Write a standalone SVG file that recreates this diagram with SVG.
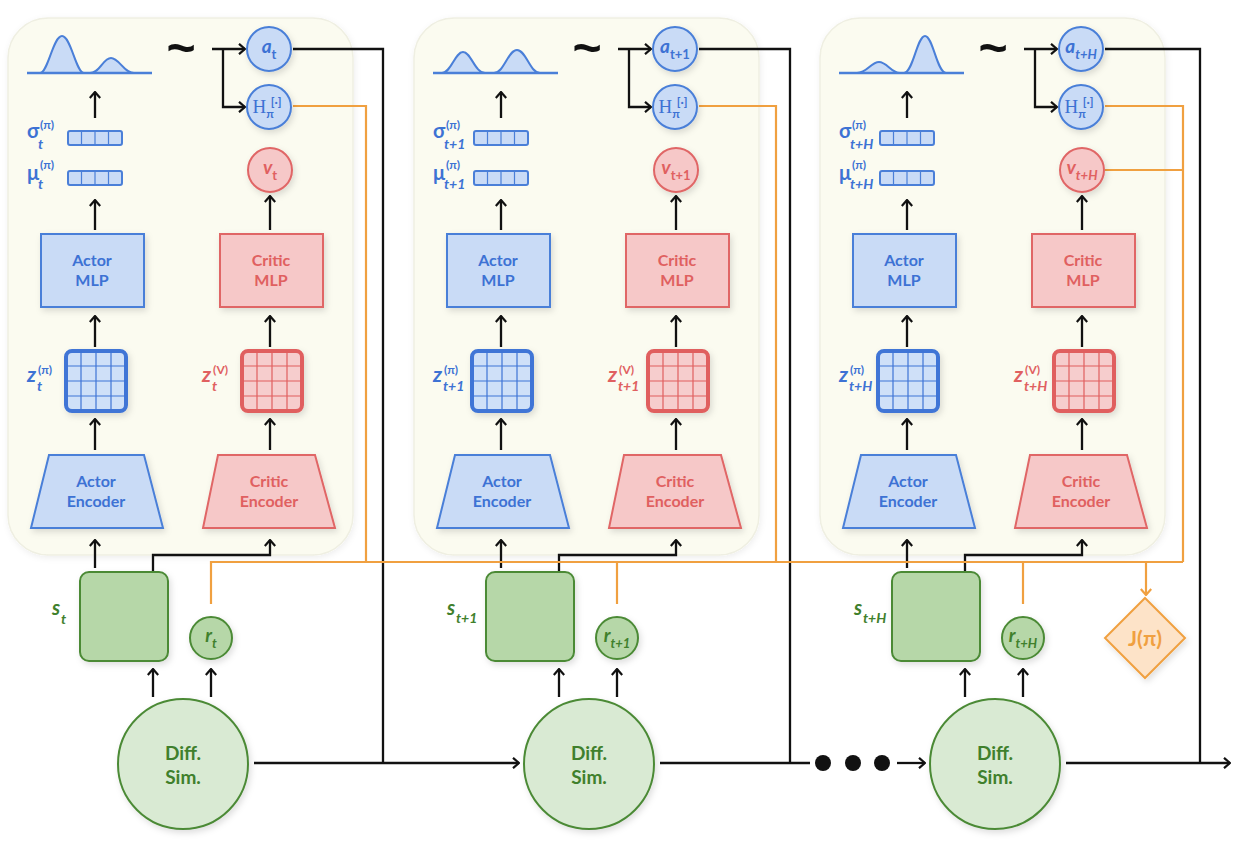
<svg xmlns="http://www.w3.org/2000/svg" width="1246" height="853" viewBox="0 0 1246 853">
<defs>
<filter id="sh" x="-30%" y="-30%" width="160%" height="160%"><feDropShadow dx="2" dy="3" stdDeviation="3" flood-color="#000" flood-opacity="0.13"/></filter>
<filter id="psh" x="-10%" y="-10%" width="120%" height="120%"><feDropShadow dx="1" dy="2" stdDeviation="3" flood-color="#000" flood-opacity="0.07"/></filter>
<marker id="ak" viewBox="0 0 12 12" refX="11" refY="6" markerWidth="12" markerHeight="12" markerUnits="userSpaceOnUse" orient="auto"><path d="M5,0.8 L11,6 L5,11.2" fill="none" stroke="#111" stroke-width="2.2"/></marker>
<marker id="ao" viewBox="0 0 12 12" refX="11" refY="6" markerWidth="12" markerHeight="12" markerUnits="userSpaceOnUse" orient="auto"><path d="M5,0.8 L11,6 L5,11.2" fill="none" stroke="#f0a040" stroke-width="2.2"/></marker>
</defs>
<style>
.panel{fill:#fbfbf0;stroke:#efefe2;stroke-width:1.5}
.bf{fill:#c9dbf6;stroke:#4a7fd8;stroke-width:2}
.rf{fill:#f6c8c8;stroke:#e06666;stroke-width:2}
.gf{fill:#b6d7a8;stroke:#4b8a36;stroke-width:2}
.gs{fill:#d9ead3;stroke:#4b8a36;stroke-width:2}
.gridb{fill:#cfe0f8;stroke:#3f74d6;stroke-width:4}
.gridr{fill:#f6cdcd;stroke:#e05f5f;stroke-width:4}
.gl{stroke-width:1.2;fill:none}
.t{font-family:Lato,"Open Sans",sans-serif;font-weight:bold}
.bt{fill:#3d72d4}
.rt{fill:#e06060}
.gt{fill:#40802c}
.ot{fill:#f0a040}
.it{font-style:italic}
.tl{font-family:"Liberation Sans",sans-serif;font-weight:bold;font-size:50px;fill:#111}
.blk{stroke:#111;stroke-width:2.3;fill:none}
.org{stroke:#f0a040;stroke-width:2.2;fill:none}
</style>

<!-- panels -->
<g id="panels">
<rect class="panel" filter="url(#psh)" x="8" y="18" width="345" height="537" rx="40"/>
<rect class="panel" filter="url(#psh)" x="414" y="18" width="345" height="537" rx="40"/>
<rect class="panel" filter="url(#psh)" x="820" y="18" width="345" height="537" rx="40"/>
</g>

<!-- connectors -->
<g id="connectors">
<g class="blk" marker-end="url(#ak)">
<path d="M95,118 V92"/><path d="M95,230 V200"/><path d="M270,230 V196"/>
<path d="M95,347 V316"/><path d="M270,347 V316"/>
<path d="M95,450 V419"/><path d="M270,450 V419"/>
<path d="M95,568 V540"/><path d="M153,572 V555 H270 V540"/>
<path d="M153,697 V669"/><path d="M211,697 V669"/>
<path d="M212,49 H245"/><path d="M223,49 V107 H245"/>

<path d="M501,118 V92"/><path d="M501,230 V200"/><path d="M676,230 V196"/>
<path d="M501,347 V316"/><path d="M676,347 V316"/>
<path d="M501,450 V419"/><path d="M676,450 V419"/>
<path d="M501,568 V540"/><path d="M559,572 V555 H676 V540"/>
<path d="M559,697 V669"/><path d="M617,697 V669"/>
<path d="M618,49 H651"/><path d="M629,49 V107 H651"/>

<path d="M907,118 V92"/><path d="M907,230 V200"/><path d="M1082,230 V196"/>
<path d="M907,347 V316"/><path d="M1082,347 V316"/>
<path d="M907,450 V419"/><path d="M1082,450 V419"/>
<path d="M907,568 V540"/><path d="M965,572 V555 H1082 V540"/>
<path d="M965,697 V669"/><path d="M1023,697 V669"/>
<path d="M1024,49 H1057"/><path d="M1035,49 V107 H1057"/>

<path d="M254,763 H519"/>
<path d="M897,763 H925"/>
<path d="M1066,763 H1230"/>
</g>
<g class="blk">
<path d="M293,49 H383 V763"/>
<path d="M699,49 H790 V763"/>
<path d="M1105,49 H1200 V763"/>
<path d="M660,763 H810"/>
</g>
<g fill="#111">
<circle cx="823" cy="763" r="8"/><circle cx="853" cy="763" r="8"/><circle cx="882" cy="763" r="8"/>
</g>
<g class="org">
<path d="M211,604 V562 H1183"/>
<path d="M617,604 V562"/>
<path d="M1023,604 V562"/>
<path d="M293,106 H366 V562"/>
<path d="M699,106 H776 V562"/>
<path d="M1105,106 H1183 V562"/>
<path d="M1105,170 H1183"/>
<path d="M1146,562 V595" marker-end="url(#ao)"/>
</g>
</g>

<!-- ===== Panel 1 ===== -->
<g id="p1">
<g id="dist1">
<path class="bf" d="M40,73 C48,73 53,36 62,36 C71,36 76,73 84,73 Z"/>
<path class="bf" d="M90,73 C100,73 103,58 111,58 C119,58 124,73 134,73 Z"/>
<path d="M27,73 H152" stroke="#4a7fd8" stroke-width="2.5"/>
</g>
<text class="tl" x="181" y="65" text-anchor="middle">~</text>
<g id="a1"><circle class="bf" filter="url(#sh)" cx="269" cy="49" r="22"/><text class="t bt" x="269" y="53" font-size="19" text-anchor="middle"><tspan class="it">a</tspan><tspan dy="6" font-size="13">t</tspan></text></g>
<g id="H1"><circle class="bf" filter="url(#sh)" cx="269" cy="107" r="22"/><text class="bt" x="267" y="113" font-size="19" text-anchor="middle" font-family="Liberation Serif,serif">H<tspan dy="5" font-size="12" font-family="Lato,sans-serif" font-weight="bold">π</tspan><tspan dx="-3" dy="-12" font-size="12" font-family="Lato,sans-serif" font-weight="bold">[·]</tspan></text></g>
<g id="v1"><circle class="rf" filter="url(#sh)" cx="270" cy="170" r="22"/><text class="t rt" x="270" y="174" font-size="19" text-anchor="middle"><tspan class="it">v</tspan><tspan dy="6" font-size="13">t</tspan></text></g>
<g id="sig1"><rect class="bf" x="68" y="131" width="54" height="14" rx="2"/><path class="gl" stroke="#4a7fd8" d="M81.5,131 V145 M95,131 V145 M108.5,131 V145"/>
<text class="t bt" x="27" y="138" font-size="20">σ</text><text class="t bt" x="40" y="129" font-size="12">(π)</text><text class="t bt it" x="38" y="149" font-size="14">t</text></g>
<g id="mu1"><rect class="bf" x="68" y="171" width="54" height="14" rx="2"/><path class="gl" stroke="#4a7fd8" d="M81.5,171 V185 M95,171 V185 M108.5,171 V185"/>
<text class="t bt" x="27" y="180" font-size="20">μ</text><text class="t bt" x="40" y="169" font-size="12">(π)</text><text class="t bt it" x="38" y="189" font-size="14">t</text></g>
<g id="amlp1"><rect class="bf" filter="url(#sh)" x="41" y="234" width="103" height="73"/><text class="t bt" x="92" y="266" font-size="16" text-anchor="middle">Actor</text><text class="t bt" x="92" y="286" font-size="16" text-anchor="middle">MLP</text></g>
<g id="cmlp1"><rect class="rf" filter="url(#sh)" x="220" y="234" width="103" height="73"/><text class="t rt" x="271" y="266" font-size="16" text-anchor="middle">Critic</text><text class="t rt" x="271" y="286" font-size="16" text-anchor="middle">MLP</text></g>
<g id="za1"><rect class="gridb" filter="url(#sh)" x="66" y="351" width="60" height="60" rx="6"/><path class="gl" stroke="#3f74d6" d="M81,351 V411 M96,351 V411 M111,351 V411 M66,366 H126 M66,381 H126 M66,396 H126"/>
<text class="t bt it" x="27" y="382" font-size="21">z</text><text class="t bt" x="38" y="374" font-size="12">(π)</text><text class="t bt it" x="37" y="391" font-size="14">t</text></g>
<g id="zc1"><rect class="gridr" filter="url(#sh)" x="242" y="351" width="60" height="60" rx="6"/><path class="gl" stroke="#e05f5f" d="M257,351 V411 M272,351 V411 M287,351 V411 M242,366 H302 M242,381 H302 M242,396 H302"/>
<text class="t rt it" x="202" y="382" font-size="21">z</text><text class="t rt" x="213" y="374" font-size="12">(V)</text><text class="t rt it" x="212" y="391" font-size="14">t</text></g>
<g id="aenc1"><path class="bf" filter="url(#sh)" d="M49,455 H144 L163,528 H31 Z"/><text class="t bt" x="96" y="487" font-size="16" text-anchor="middle">Actor</text><text class="t bt" x="96" y="507" font-size="16" text-anchor="middle">Encoder</text></g>
<g id="cenc1"><path class="rf" filter="url(#sh)" d="M218,455 H315 L335,528 H203 Z"/><text class="t rt" x="269" y="487" font-size="16" text-anchor="middle">Critic</text><text class="t rt" x="269" y="507" font-size="16" text-anchor="middle">Encoder</text></g>
<g id="s1"><rect class="gf" filter="url(#sh)" x="80" y="572" width="88" height="89" rx="9"/><text class="t gt it" x="52" y="615" font-size="20">s</text><text class="t gt it" x="61" y="624" font-size="14">t</text></g>
<g id="r1"><circle class="gf" filter="url(#sh)" cx="211" cy="638" r="21"/><text class="t gt" x="211" y="642" font-size="19" text-anchor="middle"><tspan class="it">r</tspan><tspan class="it" dy="6" font-size="13">t</tspan></text></g>
<g id="sim1"><circle class="gs" filter="url(#sh)" cx="183" cy="764" r="65"/><text class="t gt" x="183" y="760" font-size="19" text-anchor="middle">Diff.</text><text class="t gt" x="183" y="784" font-size="19" text-anchor="middle">Sim.</text></g>
</g>

<!-- ===== Panel 2 ===== -->
<g id="p2" transform="translate(406,0)">
<g id="dist2">
<path class="bf" d="M36,73 C45,73 49,52 57,52 C65,52 69,73 79,73 Z"/>
<path class="bf" d="M88,73 C98,73 102,50 111,50 C120,50 124,73 134,73 Z"/>
<path d="M27,73 H152" stroke="#4a7fd8" stroke-width="2.5"/>
</g>
<text class="tl" x="181" y="65" text-anchor="middle">~</text>
<g id="a2"><circle class="bf" filter="url(#sh)" cx="269" cy="49" r="22"/><text class="t bt" x="269" y="53" font-size="19" text-anchor="middle"><tspan class="it">a</tspan><tspan dy="6" font-size="13">t+1</tspan></text></g>
<g id="H2"><circle class="bf" filter="url(#sh)" cx="269" cy="107" r="22"/><text class="bt" x="267" y="113" font-size="19" text-anchor="middle" font-family="Liberation Serif,serif">H<tspan dy="5" font-size="12" font-family="Lato,sans-serif" font-weight="bold">π</tspan><tspan dx="-3" dy="-12" font-size="12" font-family="Lato,sans-serif" font-weight="bold">[·]</tspan></text></g>
<g id="v2"><circle class="rf" filter="url(#sh)" cx="270" cy="170" r="22"/><text class="t rt" x="270" y="174" font-size="19" text-anchor="middle"><tspan class="it">v</tspan><tspan dy="6" font-size="13">t+1</tspan></text></g>
<g id="sig2"><rect class="bf" x="68" y="131" width="54" height="14" rx="2"/><path class="gl" stroke="#4a7fd8" d="M81.5,131 V145 M95,131 V145 M108.5,131 V145"/>
<text class="t bt" x="27" y="138" font-size="20">σ</text><text class="t bt" x="40" y="129" font-size="12">(π)</text><text class="t bt it" x="38" y="149" font-size="14">t+1</text></g>
<g id="mu2"><rect class="bf" x="68" y="171" width="54" height="14" rx="2"/><path class="gl" stroke="#4a7fd8" d="M81.5,171 V185 M95,171 V185 M108.5,171 V185"/>
<text class="t bt" x="27" y="180" font-size="20">μ</text><text class="t bt" x="40" y="169" font-size="12">(π)</text><text class="t bt it" x="38" y="189" font-size="14">t+1</text></g>
<g id="amlp2"><rect class="bf" filter="url(#sh)" x="41" y="234" width="103" height="73"/><text class="t bt" x="92" y="266" font-size="16" text-anchor="middle">Actor</text><text class="t bt" x="92" y="286" font-size="16" text-anchor="middle">MLP</text></g>
<g id="cmlp2"><rect class="rf" filter="url(#sh)" x="220" y="234" width="103" height="73"/><text class="t rt" x="271" y="266" font-size="16" text-anchor="middle">Critic</text><text class="t rt" x="271" y="286" font-size="16" text-anchor="middle">MLP</text></g>
<g id="za2"><rect class="gridb" filter="url(#sh)" x="66" y="351" width="60" height="60" rx="6"/><path class="gl" stroke="#3f74d6" d="M81,351 V411 M96,351 V411 M111,351 V411 M66,366 H126 M66,381 H126 M66,396 H126"/>
<text class="t bt it" x="27" y="382" font-size="21">z</text><text class="t bt" x="38" y="374" font-size="12">(π)</text><text class="t bt it" x="37" y="391" font-size="14">t+1</text></g>
<g id="zc2"><rect class="gridr" filter="url(#sh)" x="242" y="351" width="60" height="60" rx="6"/><path class="gl" stroke="#e05f5f" d="M257,351 V411 M272,351 V411 M287,351 V411 M242,366 H302 M242,381 H302 M242,396 H302"/>
<text class="t rt it" x="202" y="382" font-size="21">z</text><text class="t rt" x="213" y="374" font-size="12">(V)</text><text class="t rt it" x="212" y="391" font-size="14">t+1</text></g>
<g id="aenc2"><path class="bf" filter="url(#sh)" d="M49,455 H144 L163,528 H31 Z"/><text class="t bt" x="96" y="487" font-size="16" text-anchor="middle">Actor</text><text class="t bt" x="96" y="507" font-size="16" text-anchor="middle">Encoder</text></g>
<g id="cenc2"><path class="rf" filter="url(#sh)" d="M218,455 H315 L335,528 H203 Z"/><text class="t rt" x="269" y="487" font-size="16" text-anchor="middle">Critic</text><text class="t rt" x="269" y="507" font-size="16" text-anchor="middle">Encoder</text></g>
<g id="s2"><rect class="gf" filter="url(#sh)" x="80" y="572" width="88" height="89" rx="9"/><text class="t gt it" x="41" y="615" font-size="20">s</text><text class="t gt it" x="50" y="623" font-size="14">t+1</text></g>
<g id="r2"><circle class="gf" filter="url(#sh)" cx="211" cy="638" r="21"/><text class="t gt" x="211" y="642" font-size="19" text-anchor="middle"><tspan class="it">r</tspan><tspan class="it" dy="6" font-size="13">t+1</tspan></text></g>
<g id="sim2"><circle class="gs" filter="url(#sh)" cx="183" cy="764" r="65"/><text class="t gt" x="183" y="760" font-size="19" text-anchor="middle">Diff.</text><text class="t gt" x="183" y="784" font-size="19" text-anchor="middle">Sim.</text></g>
</g>

<!-- ===== Panel 3 ===== -->
<g id="p3" transform="translate(812,0)">
<g id="dist3">
<path class="bf" d="M45,73 C55,73 59,62 67,62 C75,62 79,73 88,73 Z"/>
<path class="bf" d="M92,73 C101,73 105,36 113,36 C121,36 125,73 134,73 Z"/>
<path d="M27,73 H152" stroke="#4a7fd8" stroke-width="2.5"/>
</g>
<text class="tl" x="181" y="65" text-anchor="middle">~</text>
<g id="a3"><circle class="bf" filter="url(#sh)" cx="269" cy="49" r="22"/><text class="t bt" x="269" y="53" font-size="19" text-anchor="middle"><tspan class="it">a</tspan><tspan class="it" dy="6" font-size="13">t+H</tspan></text></g>
<g id="H3"><circle class="bf" filter="url(#sh)" cx="269" cy="107" r="22"/><text class="bt" x="267" y="113" font-size="19" text-anchor="middle" font-family="Liberation Serif,serif">H<tspan dy="5" font-size="12" font-family="Lato,sans-serif" font-weight="bold">π</tspan><tspan dx="-3" dy="-12" font-size="12" font-family="Lato,sans-serif" font-weight="bold">[·]</tspan></text></g>
<g id="v3"><circle class="rf" filter="url(#sh)" cx="270" cy="170" r="22"/><text class="t rt" x="270" y="174" font-size="19" text-anchor="middle"><tspan class="it">v</tspan><tspan class="it" dy="6" font-size="13">t+H</tspan></text></g>
<g id="sig3"><rect class="bf" x="68" y="131" width="54" height="14" rx="2"/><path class="gl" stroke="#4a7fd8" d="M81.5,131 V145 M95,131 V145 M108.5,131 V145"/>
<text class="t bt" x="27" y="138" font-size="20">σ</text><text class="t bt" x="40" y="129" font-size="12">(π)</text><text class="t bt it" x="38" y="149" font-size="14">t+H</text></g>
<g id="mu3"><rect class="bf" x="68" y="171" width="54" height="14" rx="2"/><path class="gl" stroke="#4a7fd8" d="M81.5,171 V185 M95,171 V185 M108.5,171 V185"/>
<text class="t bt" x="27" y="180" font-size="20">μ</text><text class="t bt" x="40" y="169" font-size="12">(π)</text><text class="t bt it" x="38" y="189" font-size="14">t+H</text></g>
<g id="amlp3"><rect class="bf" filter="url(#sh)" x="41" y="234" width="103" height="73"/><text class="t bt" x="92" y="266" font-size="16" text-anchor="middle">Actor</text><text class="t bt" x="92" y="286" font-size="16" text-anchor="middle">MLP</text></g>
<g id="cmlp3"><rect class="rf" filter="url(#sh)" x="220" y="234" width="103" height="73"/><text class="t rt" x="271" y="266" font-size="16" text-anchor="middle">Critic</text><text class="t rt" x="271" y="286" font-size="16" text-anchor="middle">MLP</text></g>
<g id="za3"><rect class="gridb" filter="url(#sh)" x="66" y="351" width="60" height="60" rx="6"/><path class="gl" stroke="#3f74d6" d="M81,351 V411 M96,351 V411 M111,351 V411 M66,366 H126 M66,381 H126 M66,396 H126"/>
<text class="t bt it" x="27" y="382" font-size="21">z</text><text class="t bt" x="38" y="374" font-size="12">(π)</text><text class="t bt it" x="37" y="391" font-size="14">t+H</text></g>
<g id="zc3"><rect class="gridr" filter="url(#sh)" x="242" y="351" width="60" height="60" rx="6"/><path class="gl" stroke="#e05f5f" d="M257,351 V411 M272,351 V411 M287,351 V411 M242,366 H302 M242,381 H302 M242,396 H302"/>
<text class="t rt it" x="202" y="382" font-size="21">z</text><text class="t rt" x="213" y="374" font-size="12">(V)</text><text class="t rt it" x="212" y="391" font-size="14">t+H</text></g>
<g id="aenc3"><path class="bf" filter="url(#sh)" d="M49,455 H144 L163,528 H31 Z"/><text class="t bt" x="96" y="487" font-size="16" text-anchor="middle">Actor</text><text class="t bt" x="96" y="507" font-size="16" text-anchor="middle">Encoder</text></g>
<g id="cenc3"><path class="rf" filter="url(#sh)" d="M218,455 H315 L335,528 H203 Z"/><text class="t rt" x="269" y="487" font-size="16" text-anchor="middle">Critic</text><text class="t rt" x="269" y="507" font-size="16" text-anchor="middle">Encoder</text></g>
<g id="s3"><rect class="gf" filter="url(#sh)" x="80" y="572" width="88" height="89" rx="9"/><text class="t gt it" x="42" y="615" font-size="20">s</text><text class="t gt it" x="51" y="623" font-size="14">t+H</text></g>
<g id="r3"><circle class="gf" filter="url(#sh)" cx="211" cy="638" r="21"/><text class="t gt" x="211" y="642" font-size="19" text-anchor="middle"><tspan class="it">r</tspan><tspan class="it" dy="6" font-size="13">t+H</tspan></text></g>
<g id="sim3"><circle class="gs" filter="url(#sh)" cx="183" cy="764" r="65"/><text class="t gt" x="183" y="760" font-size="19" text-anchor="middle">Diff.</text><text class="t gt" x="183" y="784" font-size="19" text-anchor="middle">Sim.</text></g>
</g>

<g id="J">
<path d="M1145,598 L1185,638 L1145,678 L1105,638 Z" fill="#fde3c8" stroke="#f0a040" stroke-width="2" filter="url(#sh)"/>
<text class="t ot" x="1145" y="646" font-size="21" text-anchor="middle">J(π)</text>
</g>
</svg>
